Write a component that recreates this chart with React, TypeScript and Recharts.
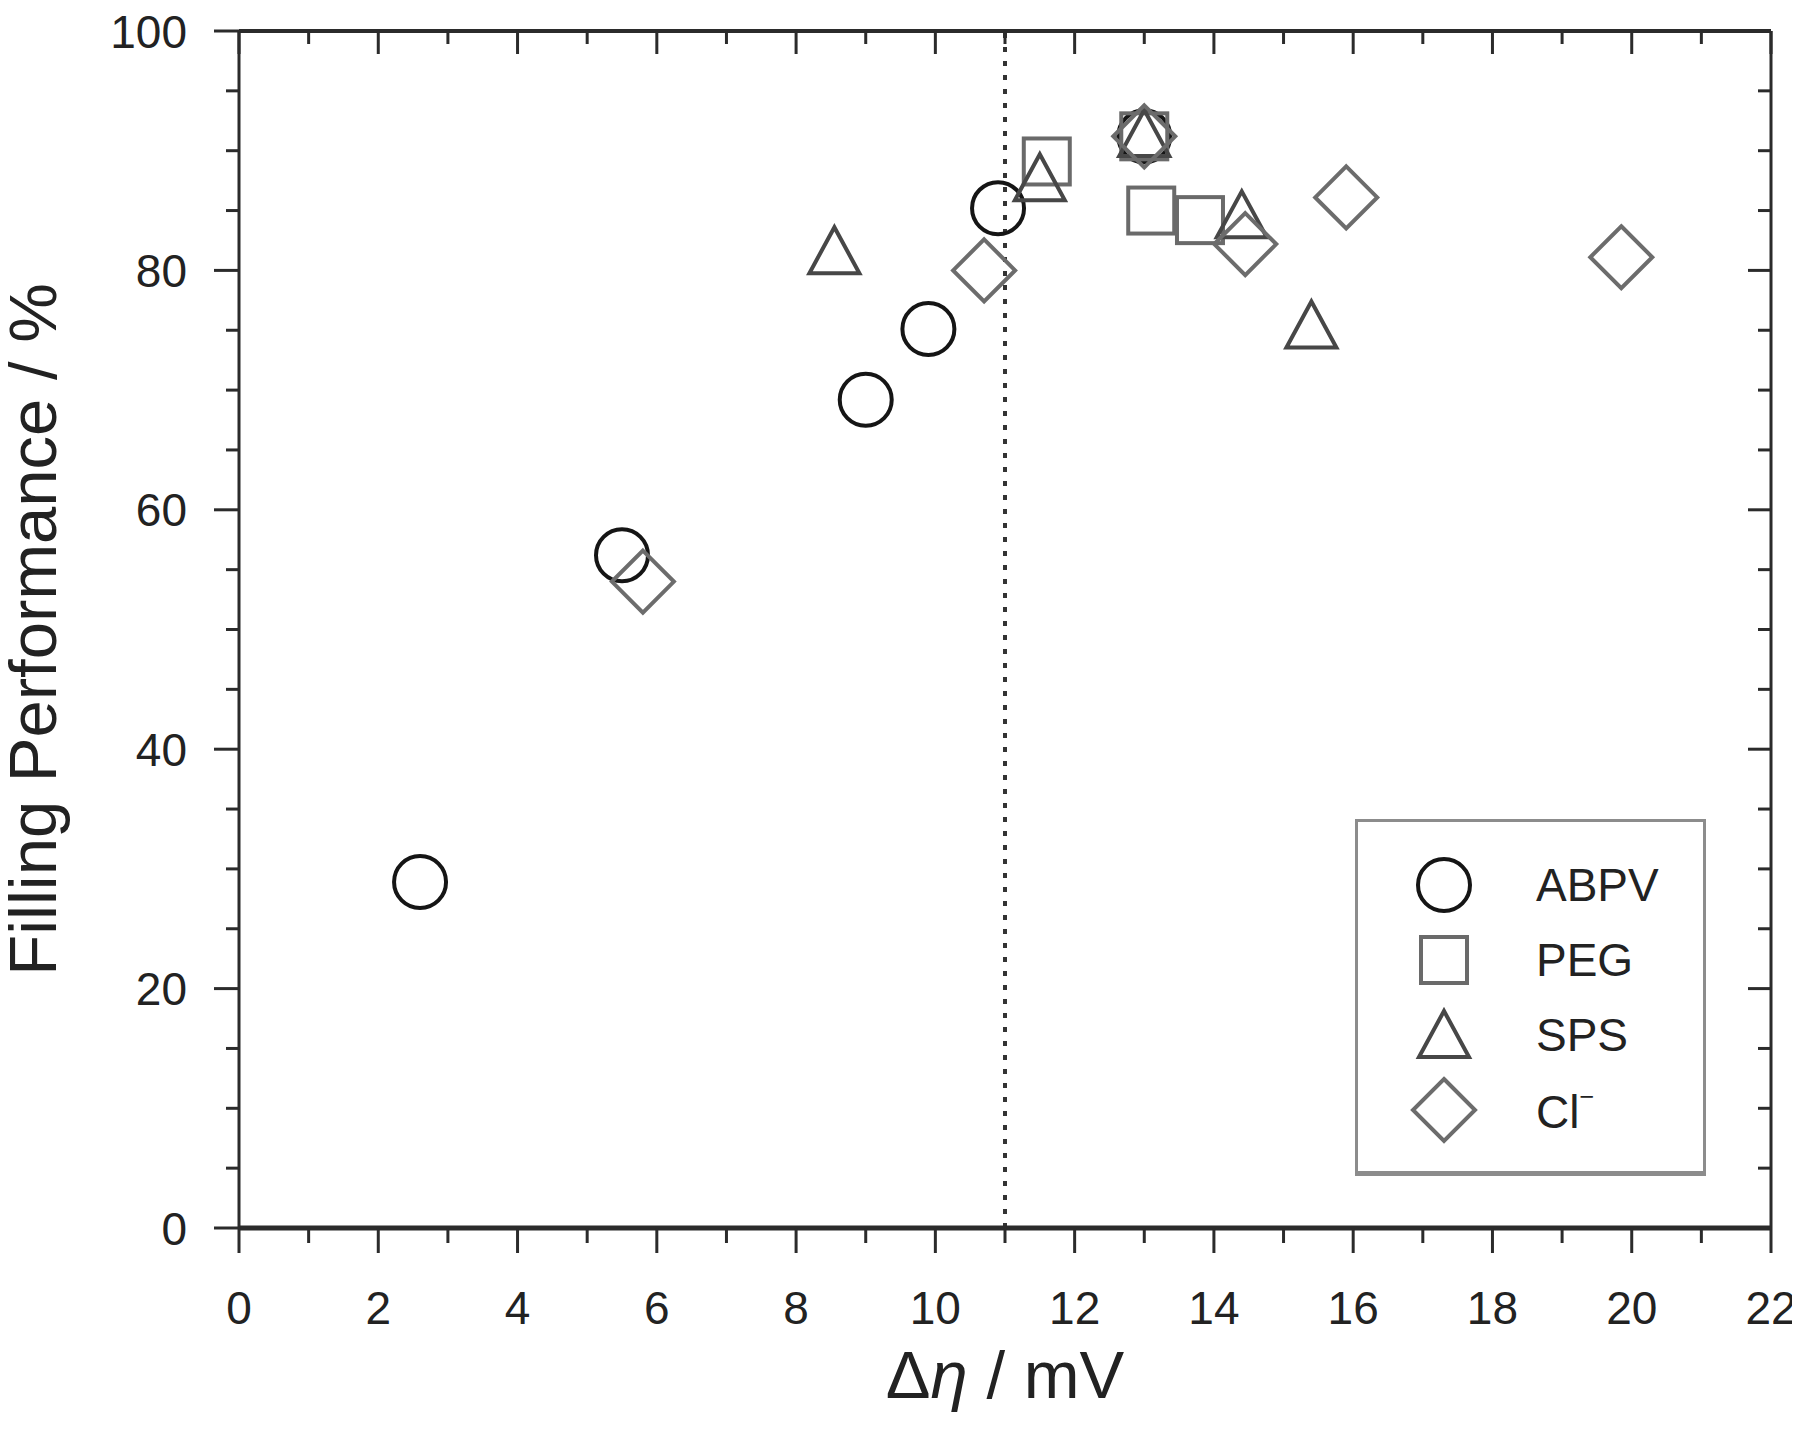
import React from 'react';
import { ScatterChart, Scatter, XAxis, YAxis, ReferenceLine, Legend } from 'recharts';

// ---- data ----
const seriesNames = ['ABPV', 'PEG', 'SPS', 'Cl'];
const abpvX = [2.6, 5.5, 9.0, 9.9, 10.9, 13.0];
const abpvY = [28.9, 56.2, 69.2, 75.1, 85.2, 91.2];
const pegX = [11.6, 13.1, 13.8, 13.0];
const pegY = [89.1, 85.0, 84.2, 91.2];
const spsX = [8.55, 11.5, 13.0, 14.4, 15.4];
const spsY = [81.6, 87.7, 91.4, 84.6, 75.4];
const clX = [5.8, 10.7, 13.0, 14.45, 15.9, 19.85];
const clY = [54.0, 80.0, 91.2, 82.2, 86.1, 81.1];

const xTicks = [0, 1, 2, 3, 4, 5, 6, 7, 8, 9, 10, 11, 12, 13, 14, 15, 16, 17, 18, 19, 20, 21, 22];
const xMajorTicks = [0, 2, 4, 6, 8, 10, 12, 14, 16, 18, 20, 22];
const yTicks = [0, 5, 10, 15, 20, 25, 30, 35, 40, 45, 50, 55, 60, 65, 70, 75, 80, 85, 90, 95, 100];
const yMajorTicks = [0, 20, 40, 60, 80, 100];
const dividerX = 11;

const zip = (xs: number[], ys: number[]) => xs.map((x, i) => ({ x, y: ys[i] }));
const abpvData = zip(abpvX, abpvY);
const pegData = zip(pegX, pegY);
const spsData = zip(spsX, spsY);
const clData = zip(clX, clY);

const FONT = '"Liberation Sans", Arial, Helvetica, sans-serif';
const AXIS = '#2b2b2b';
const TEXT = '#222';

type Kind = 'circle' | 'square' | 'triangle' | 'diamond';
const kinds: Kind[] = ['circle', 'square', 'triangle', 'diamond'];

const Marker = ({ kind, cx, cy }: { kind: Kind; cx: number; cy: number }) => {
  if (kind === 'circle') {
    return <circle cx={cx} cy={cy} r={26} fill="none" stroke="#151515" strokeWidth={4} />;
  }
  if (kind === 'square') {
    return <rect x={cx - 23} y={cy - 23} width={46} height={46} fill="none" stroke="#6a6a6a" strokeWidth={4} />;
  }
  if (kind === 'triangle') {
    const pts = `${cx},${cy - 24} ${cx - 25},${cy + 22} ${cx + 25},${cy + 22}`;
    return <polygon points={pts} fill="none" stroke="#474747" strokeWidth={4} />;
  }
  const d = 31;
  const pts = `${cx},${cy - d} ${cx + d},${cy} ${cx},${cy + d} ${cx - d},${cy}`;
  return <polygon points={pts} fill="none" stroke="#6c6c6c" strokeWidth={4} />;
};

const BottomTick = (props: any) => {
  const { x, y, payload } = props;
  const major = xMajorTicks.includes(payload.value);
  return (
    <g>
      <line x1={x} x2={x} y1={y} y2={y + (major ? 25 : 15)} stroke={AXIS} strokeWidth={3} />
      {major && (
        <text x={x} y={y + 96} textAnchor="middle" fontSize={46} fill={TEXT} fontFamily={FONT}>
          {payload.value}
        </text>
      )}
    </g>
  );
};

const TopTick = (props: any) => {
  const { x, y, payload } = props;
  const major = xMajorTicks.includes(payload.value);
  return <line x1={x} x2={x} y1={y} y2={y + (major ? 23 : 13)} stroke={AXIS} strokeWidth={3} />;
};

const LeftTick = (props: any) => {
  const { x, y, payload } = props;
  const major = yMajorTicks.includes(payload.value);
  return (
    <g>
      <line x1={x} x2={x - (major ? 25 : 13)} y1={y} y2={y} stroke={AXIS} strokeWidth={3} />
      {major && (
        <text x={x - 52} y={y} dy="0.36em" textAnchor="end" fontSize={46} fill={TEXT} fontFamily={FONT}>
          {payload.value}
        </text>
      )}
    </g>
  );
};

const RightTick = (props: any) => {
  const { x, y, payload } = props;
  const major = yMajorTicks.includes(payload.value);
  return <line x1={x} x2={x - (major ? 23 : 13)} y1={y} y2={y} stroke={AXIS} strokeWidth={3} />;
};

const YTitle = (props: any) => {
  const vb = props.viewBox || { x: 31, y: 23, width: 200, height: 1197 };
  const x = vb.x + 17;
  const y = vb.y + vb.height / 2;
  return (
    <text x={x} y={y} transform={`rotate(-90, ${x}, ${y})`} textAnchor="middle" fontSize={67} fill={TEXT} fontFamily={FONT}>
      Filling Performance / %
    </text>
  );
};

const XTitle = (props: any) => {
  const vb = props.viewBox || { x: 231, y: 1220, width: 1532, height: 199 };
  const x = vb.x + vb.width / 2;
  const y = vb.y + 170;
  return (
    <text x={x} y={y} textAnchor="middle" fontSize={67} fill={TEXT} fontFamily={FONT}>
      <tspan>Δ</tspan>
      <tspan fontStyle="italic">η</tspan>
      <tspan> / mV</tspan>
    </text>
  );
};

const LegendBox = () => (
  <div
    style={{
      boxSizing: 'border-box',
      width: 351,
      height: 357,
      border: '3px solid #8c8c8c',
      borderBottomWidth: 5,
      background: '#fff',
      paddingTop: 25,
      fontFamily: FONT,
      color: TEXT,
    }}
  >
    {seriesNames.map((name, i) => (
      <div key={name} style={{ display: 'flex', alignItems: 'center', height: 75 }}>
        <svg width={70} height={70} style={{ marginLeft: 51, display: 'block' }}>
          <Marker kind={kinds[i]} cx={35} cy={35} />
        </svg>
        <span style={{ marginLeft: 57, fontSize: 46, lineHeight: 1 }}>
          {name}
          {name === 'Cl' && <sup style={{ fontSize: '0.55em', verticalAlign: '0.9em' }}>−</sup>}
        </span>
      </div>
    ))}
  </div>
);

export default function App() {
  return (
    <div style={{ width: 1784, height: 1419, background: '#fff' }}>
      <ScatterChart width={1784} height={1419} margin={{ top: 22, right: 20, bottom: 0, left: 31 }}>
        <XAxis
          xAxisId="bottom"
          type="number"
          dataKey="x"
          domain={[0, 22]}
          ticks={xTicks}
          interval={0}
          tickSize={0}
          tickMargin={0}
          tickLine={false}
          tick={BottomTick}
          axisLine={{ stroke: AXIS, strokeWidth: 5 }}
          height={199}
          allowDataOverflow
          label={(p: any) => <XTitle {...p} />}
        />
        <XAxis
          xAxisId="top"
          orientation="top"
          type="number"
          dataKey="x"
          domain={[0, 22]}
          ticks={xTicks}
          interval={0}
          tickSize={0}
          tickMargin={0}
          tickLine={false}
          tick={TopTick}
          axisLine={{ stroke: AXIS, strokeWidth: 4 }}
          height={1}
          allowDataOverflow
        />
        <YAxis
          yAxisId="left"
          type="number"
          dataKey="y"
          domain={[0, 100]}
          ticks={yTicks}
          interval={0}
          tickSize={0}
          tickMargin={0}
          tickLine={false}
          tick={LeftTick}
          axisLine={{ stroke: AXIS, strokeWidth: 3 }}
          width={200}
          allowDataOverflow
          label={(p: any) => <YTitle {...p} />}
        />
        <YAxis
          yAxisId="right"
          orientation="right"
          type="number"
          dataKey="y"
          domain={[0, 100]}
          ticks={yTicks}
          interval={0}
          tickSize={0}
          tickMargin={0}
          tickLine={false}
          tick={RightTick}
          axisLine={{ stroke: AXIS, strokeWidth: 3 }}
          width={1}
          allowDataOverflow
        />
        <ReferenceLine
          x={dividerX}
          xAxisId="bottom"
          yAxisId="left"
          stroke="#333"
          strokeWidth={4}
          strokeDasharray="5 9"
        />
        <Scatter
          name={seriesNames[0]}
          data={abpvData}
          xAxisId="bottom"
          yAxisId="left"
          isAnimationActive={false}
          shape={(p: any) => <Marker kind="circle" cx={p.cx} cy={p.cy} />}
        />
        <Scatter
          name={seriesNames[1]}
          data={pegData}
          xAxisId="bottom"
          yAxisId="left"
          isAnimationActive={false}
          shape={(p: any) => <Marker kind="square" cx={p.cx} cy={p.cy} />}
        />
        <Scatter
          name={seriesNames[2]}
          data={spsData}
          xAxisId="bottom"
          yAxisId="left"
          isAnimationActive={false}
          shape={(p: any) => <Marker kind="triangle" cx={p.cx} cy={p.cy} />}
        />
        <Scatter
          name={seriesNames[3]}
          data={clData}
          xAxisId="bottom"
          yAxisId="left"
          isAnimationActive={false}
          shape={(p: any) => <Marker kind="diamond" cx={p.cx} cy={p.cy} />}
        />
        <Legend
          layout="vertical"
          align="center"
          verticalAlign="middle"
          wrapperStyle={{ position: 'absolute', left: 1347, top: 811, width: 351, height: 357 }}
          content={() => <LegendBox />}
        />
      </ScatterChart>
    </div>
  );
}
